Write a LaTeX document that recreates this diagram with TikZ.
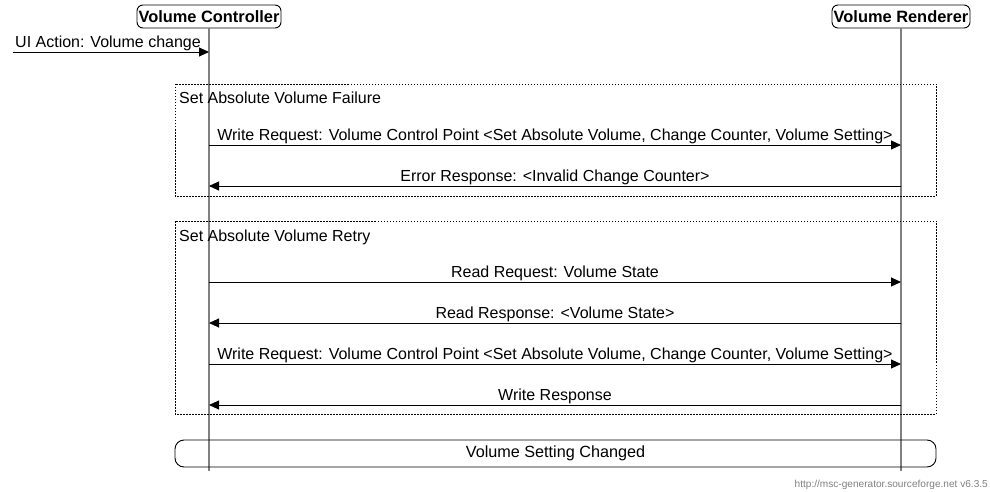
\documentclass[tikz,border=0pt]{standalone}
\usepackage{fontspec}
\setmainfont{Liberation Sans}
\usetikzlibrary{arrows.meta}
\begin{document}
\begin{tikzpicture}[x=1pt,y=-1pt,
  ent/.style={draw,rounded corners=6pt,line width=0.9pt,font=\fontsize{16.4}{16.4}\selectfont\bfseries,inner sep=0pt,minimum height=23pt,text depth=0pt},
  life/.style={draw=gray,line width=2pt},
  msg/.style={line width=0.9pt,-{Triangle[length=10pt,width=9pt]}},
  lbl/.style={font=\fontsize{16}{16}\selectfont,inner sep=0pt,anchor=base},
  grp/.style={draw,dash pattern=on 1.5pt off 1.5pt,line width=0.7pt},
  every node/.style={inner sep=0pt}]
\useasboundingbox (0,0) rectangle (990,492);
% entities
\node[ent,minimum width=144pt] (vc) at (209,16.5) {Volume Controller};
\node[ent,minimum width=138pt] (vr) at (901,16.5) {Volume Renderer};
\coordinate (vcend) at (209,471);
\coordinate (vrend) at (901,471);
\draw[life] (vc.south) -- (vcend);
\draw[life] (vr.south) -- (vrend);
% groups
\draw[grp] (175,84) rectangle (936,196);
\node[lbl,anchor=base west] (g1) at (179,104) {Set Absolute Volume Failure};
\draw[grp] (175,221) rectangle (936,414);
\node[lbl,anchor=base west] (g2) at (179,241) {Set Absolute Volume Retry};
% UI action
\coordinate (ui) at (13,52);
\coordinate (vc1) at (209,52);
\draw[msg] (ui) -- (vc1);
\node[lbl,anchor=base west] (uil) at (15,47.5) {UI Action: Volume change};
% messages
\foreach \y/\dir/\t [count=\i] in {
  145/r/{Write Request: Volume Control Point <Set Absolute Volume, Change Counter, Volume Setting>},
  186/l/{Error Response: <Invalid Change Counter>},
  282/r/{Read Request: Volume State},
  323/l/{Read Response: <Volume State>},
  364/r/{Write Request: Volume Control Point <Set Absolute Volume, Change Counter, Volume Setting>},
  405/l/{Write Response}}{
  \coordinate (a\i) at (209,\y);
  \coordinate (b\i) at (901,\y);
  \if r\dir \draw[msg] (a\i) -- (b\i); \else \draw[msg] (b\i) -- (a\i); \fi
  \node[lbl] (m\i) at (555,\y-4.5) {\t};
}
% final box
\node[draw,rounded corners=9pt,line width=0.9pt,minimum width=761pt,minimum height=27pt,font=\fontsize{16.2}{16.2}\selectfont] (fin) at (555.5,453.5) {Volume Setting Changed};
\node[font=\fontsize{10.1}{10.1}\selectfont,text=gray,anchor=base east] (url) at (988,487) {http://msc-generator.sourceforge.net v6.3.5};
\end{tikzpicture}
\end{document}
